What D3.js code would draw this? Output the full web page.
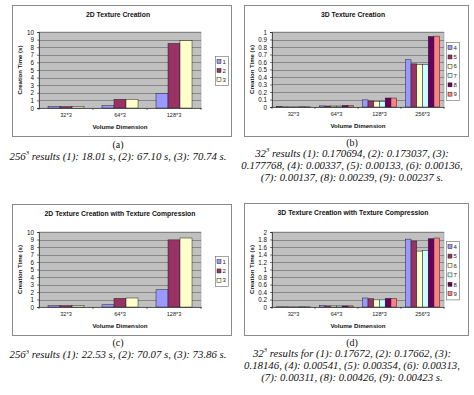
<!DOCTYPE html>
<html>
<head>
<meta charset="utf-8">
<script src="https://cdn.jsdelivr.net/npm/d3@7"></script>
<style>
  body { margin: 0; background: #fff; }
  svg { display: block; }
</style>
</head>
<body>
<script>
// categories and series
var cats3 = ["32^3", "64^3", "128^3"];
var cats4 = ["32^3", "64^3", "128^3", "256^3"];
var series2d = ["1", "2", "3"];
var series3d = ["4", "5", "6", "7", "8", "9"];

// values, one row per series
var valsA = [
  [0.170694, 0.30, 1.90],
  [0.173037, 1.15, 8.50],
  [0.177768, 1.15, 8.85]
];
var valsB = [
  [0.00337, 0.015, 0.095, 0.63],
  [0.00133, 0.013, 0.080, 0.575],
  [0.00136, 0.013, 0.075, 0.565],
  [0.00137, 0.013, 0.075, 0.565],
  [0.00239, 0.020, 0.120, 0.94],
  [0.00237, 0.020, 0.120, 0.945]
];
var valsC = [
  [0.17672, 0.30, 2.30],
  [0.17662, 1.15, 8.95],
  [0.18146, 1.20, 9.20]
];
var valsD = [
  [0.00541, 0.040, 0.240, 1.81],
  [0.00354, 0.030, 0.220, 1.76],
  [0.00313, 0.030, 0.190, 1.49],
  [0.00311, 0.030, 0.190, 1.51],
  [0.00426, 0.030, 0.230, 1.82],
  [0.00423, 0.030, 0.230, 1.84]
];

// y tick values
var ticksA = [0, 1, 2, 3, 4, 5, 6, 7, 8, 9, 10];
var ticksB = [0, 0.1, 0.2, 0.3, 0.4, 0.5, 0.6, 0.7, 0.8, 0.9, 1];
var ticksD = [0, 0.2, 0.4, 0.6, 0.8, 1, 1.2, 1.4, 1.6, 1.8, 2];

var colors2d = ["#9999ff", "#993366", "#ffffcc"];
var colors3d = ["#9999ff", "#993366", "#ffffcc", "#ccffff", "#660066", "#ff8080"];

var sans = "Liberation Sans, Arial, sans-serif";
var serif = "Liberation Serif, Times New Roman, serif";

var svg = d3.select("body").append("svg").attr("width", 474).attr("height", 395);

function drawChart(o) {
  var g = svg.append("g");
  // outer frame
  g.append("rect").attr("x", o.fx0 + 0.5).attr("y", o.fy0 + 0.5)
    .attr("width", o.fx1 - o.fx0).attr("height", o.fy1 - o.fy0)
    .attr("fill", "#fff").attr("stroke", "#8a8a8a").attr("stroke-width", 1);

  var x0 = d3.scaleBand().domain(o.cats).range([o.px0, o.px1]);
  var y = d3.scaleLinear().domain([0, o.ymax]).range([o.py1, o.py0]);
  var n = o.series.length;
  var gw = x0.bandwidth() * n / (n + 1.5);
  var x1 = d3.scaleBand().domain(o.series).range([0, gw]);

  // plot area
  g.append("rect").attr("x", o.px0).attr("y", o.py0)
    .attr("width", o.px1 - o.px0).attr("height", o.py1 - o.py0)
    .attr("fill", "#c0c0c0").attr("stroke", "#9a9a9a").attr("stroke-width", 0.6);

  g.selectAll(".grid").data(o.ticks.slice(1)).enter().append("line")
    .attr("x1", o.px0).attr("x2", o.px1)
    .attr("y1", function(d) { return Math.round(y(d)) + 0.5; })
    .attr("y2", function(d) { return Math.round(y(d)) + 0.5; })
    .attr("stroke", "#6e6e6e").attr("stroke-width", 0.7);

  // bars
  o.vals.forEach(function(row, si) {
    g.selectAll(".b" + si).data(row).enter().append("rect")
      .attr("x", function(d, i) { return x0(o.cats[i]) + (x0.bandwidth() - gw) / 2 + x1(o.series[si]); })
      .attr("y", function(d) { return y(d); })
      .attr("width", x1.bandwidth())
      .attr("height", function(d) { return o.py1 - y(d); })
      .attr("fill", o.colors[si])
      .attr("stroke", "#222").attr("stroke-width", 0.5);
  });

  // axes
  var fmt = d3.format("~g");
  var ya = g.append("g").attr("transform", "translate(" + o.px0 + ",0)")
    .call(d3.axisLeft(y).tickValues(o.ticks).tickFormat(fmt).tickSize(2).tickPadding(3));
  ya.select(".domain").attr("stroke", "#222").attr("stroke-width", 0.7);
  ya.selectAll("line").attr("stroke", "#222").attr("stroke-width", 0.6);
  ya.selectAll("text").attr("font-family", sans).attr("font-size", 6.3).attr("fill", "#111");

  var xa = g.append("g").attr("transform", "translate(0," + o.py1 + ")")
    .call(d3.axisBottom(x0).tickSize(0).tickPadding(5).tickFormat(function(d) { return d.replace("^", "*"); }));
  xa.select(".domain").attr("stroke", "#222").attr("stroke-width", 0.7);
  xa.selectAll("text").attr("font-family", sans).attr("font-size", 5.6).attr("fill", "#222");
  // category separators
  g.selectAll(".sep").data(o.cats.concat(["end"])).enter().append("line")
    .attr("x1", function(d, i) { return o.px0 + i * x0.bandwidth(); })
    .attr("x2", function(d, i) { return o.px0 + i * x0.bandwidth(); })
    .attr("y1", o.py1).attr("y2", o.py1 + 2)
    .attr("stroke", "#222").attr("stroke-width", 0.6);

  // titles
  g.append("text").attr("x", (o.px0 + o.px1) / 2 + o.tdx).attr("y", o.fy0 + 12)
    .attr("text-anchor", "middle").attr("font-family", sans)
    .attr("font-weight", "bold").attr("font-size", 6.8).attr("fill", "#111").text(o.title);
  g.append("text").attr("x", (o.px0 + o.px1) / 2).attr("y", o.py1 + 21)
    .attr("text-anchor", "middle").attr("font-family", sans)
    .attr("font-weight", "bold").attr("font-size", 6.2).attr("fill", "#111").text("Volume Dimension");
  g.append("text")
    .attr("transform", "translate(" + o.ylx + "," + (o.py0 + o.py1) / 2 + ") rotate(-90)")
    .attr("text-anchor", "middle").attr("font-family", sans)
    .attr("font-weight", "bold").attr("font-size", 6).attr("fill", "#111").text("Creation Time (s)");

  // legend
  var lh = o.series.length * o.lstep + 2;
  var lg = g.append("g").attr("transform", "translate(" + o.lx + "," + o.ly + ")");
  lg.append("rect").attr("x", 0.5).attr("y", 0.5).attr("width", 13).attr("height", lh)
    .attr("fill", "#fff").attr("stroke", "#666").attr("stroke-width", 0.6);
  o.series.forEach(function(s, i) {
    var yy = 1 + i * o.lstep + o.lstep / 2;
    lg.append("rect").attr("x", 2).attr("y", yy - 2).attr("width", 4).attr("height", 4)
      .attr("fill", o.colors[i]).attr("stroke", "#222").attr("stroke-width", 0.5);
    lg.append("text").attr("x", 7.5).attr("y", yy + 2.2)
      .attr("font-family", sans).attr("font-size", 6).attr("fill", "#222").text(s);
  });

  // caption
  svg.append("text").attr("font-family", serif).attr("fill", "#111")
    .attr("x", o.cx).attr("y", o.labY)
    .attr("text-anchor", "middle").attr("font-size", 10).text(o.label);
  o.caption.forEach(function(line, i) {
    var t = svg.append("text").attr("font-family", serif).attr("fill", "#111")
      .attr("x", o.cx).attr("y", o.capY + i * 12.3)
      .attr("text-anchor", "middle").attr("font-size", 10.8).attr("font-style", "italic");
    if (line.indexOf("^3") > 0) {
      var parts = line.split("^3");
      t.append("tspan").text(parts[0]);
      t.append("tspan").attr("dy", -4.5).attr("font-size", 6.5).text("3");
      t.append("tspan").attr("dy", 4.5).text(parts[1]);
    } else {
      t.text(line);
    }
  });
}

drawChart({
  fx0: 12, fy0: 5, fx1: 231, fy1: 136, px0: 39, px1: 201, py0: 32, py1: 108,
  cats: cats3, series: series2d, vals: valsA, colors: colors2d, ymax: 10, ticks: ticksA,
  title: "2D Texture Creation", tdx: -2, ylx: 22, lx: 215, ly: 56, lstep: 9,
  cx: 118, labY: 147.5, label: "(a)",
  caption: ["256^3 results (1): 18.01 s, (2): 67.10 s, (3): 70.74 s."], capY: 159.5
});
drawChart({
  fx0: 244, fy0: 5, fx1: 468, fy1: 136, px0: 272, px1: 444, py0: 32, py1: 107,
  cats: cats4, series: series3d, vals: valsB, colors: colors3d, ymax: 1, ticks: ticksB,
  title: "3D Texture Creation", tdx: -5, ylx: 254, lx: 446, ly: 42, lstep: 9.3,
  cx: 352, labY: 145.5, label: "(b)",
  caption: ["32^3 results (1): 0.170694, (2): 0.173037, (3):",
            "0.177768, (4): 0.00337, (5): 0.00133, (6): 0.00136,",
            "(7): 0.00137, (8): 0.00239, (9): 0.00237 s."], capY: 156.8
});
drawChart({
  fx0: 12, fy0: 204, fx1: 231, fy1: 335, px0: 39, px1: 201, py0: 232, py1: 307,
  cats: cats3, series: series2d, vals: valsC, colors: colors2d, ymax: 10, ticks: ticksA,
  title: "2D Texture Creation with Texture Compression", tdx: 0, ylx: 22, lx: 215, ly: 256, lstep: 9.3,
  cx: 118, labY: 346, label: "(c)",
  caption: ["256^3 results (1): 22.53 s, (2): 70.07 s, (3): 73.86 s."], capY: 358
});
drawChart({
  fx0: 244, fy0: 203, fx1: 468, fy1: 335, px0: 272, px1: 444, py0: 232, py1: 307,
  cats: cats4, series: series3d, vals: valsD, colors: colors3d, ymax: 2, ticks: ticksD,
  title: "3D Texture Creation with Texture Compression", tdx: -5, ylx: 254, lx: 446, ly: 241, lstep: 9.4,
  cx: 352, labY: 345.5, label: "(d)",
  caption: ["32^3 results for (1): 0.17672, (2): 0.17662, (3):",
            "0.18146, (4): 0.00541, (5): 0.00354, (6): 0.00313,",
            "(7): 0.00311, (8): 0.00426, (9): 0.00423 s."], capY: 356.8
});
</script>
</body>
</html>
